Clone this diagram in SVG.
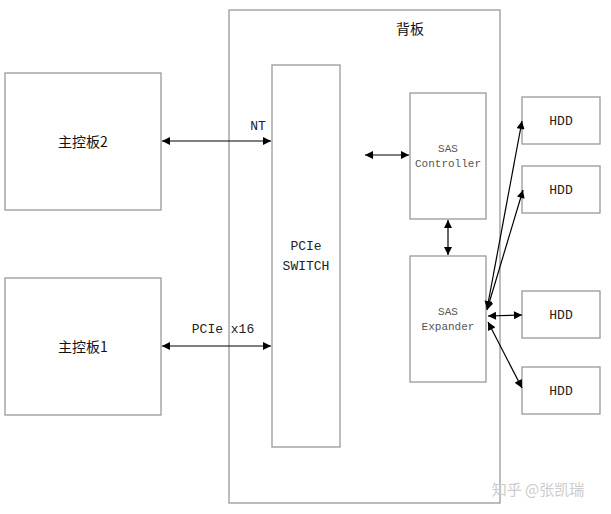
<svg xmlns="http://www.w3.org/2000/svg" width="611" height="514" viewBox="0 0 611 514">
<defs>
<marker id="a" viewBox="0 0 10 10" refX="10" refY="5" markerWidth="10" markerHeight="8" orient="auto-start-reverse" markerUnits="userSpaceOnUse"><path d="M0,0L10,5L0,10z" fill="#000"/></marker>
<style>
.b{fill:#fff;stroke:#999;stroke-width:1.3}
.t{font-family:"Liberation Mono","Noto Sans CJK SC",monospace;font-size:13px;fill:#222;text-anchor:middle}
.s{font-size:11px;fill:#555}
.c{font-family:"Noto Sans CJK SC",sans-serif;font-size:14px;fill:#111;text-anchor:middle}
.l{stroke:#000;stroke-width:1.2;fill:none;marker-start:url(#a);marker-end:url(#a)}
</style>
</defs>
<rect width="611" height="514" fill="#fff"/>
<g id="backplane"><rect class="b" x="229" y="10" width="271" height="493"/><text class="c" x="410" y="34">背板</text></g>
<g id="mb2"><rect class="b" x="5" y="73" width="156" height="137"/><text class="c" x="83" y="147">主控板2</text></g>
<g id="mb1"><rect class="b" x="5" y="278" width="156" height="137"/><text class="c" x="83" y="352">主控板1</text></g>
<g id="switch"><rect class="b" x="272" y="65" width="68" height="382"/><text class="t" x="306" y="250">PCIe</text><text class="t" x="306" y="270">SWITCH</text></g>
<g id="ctrl"><rect class="b" x="410" y="93" width="76" height="126"/><text class="t s" x="448" y="152">SAS</text><text class="t s" x="448" y="167">Controller</text></g>
<g id="exp"><rect class="b" x="410" y="256" width="76" height="126"/><text class="t s" x="448" y="315">SAS</text><text class="t s" x="448" y="330">Expander</text></g>
<g id="hdd1"><rect class="b" x="522" y="97" width="78" height="47"/><text class="t" x="561" y="125">HDD</text></g>
<g id="hdd2"><rect class="b" x="522" y="166" width="78" height="47"/><text class="t" x="561" y="194">HDD</text></g>
<g id="hdd3"><rect class="b" x="522" y="291" width="78" height="47"/><text class="t" x="561" y="319">HDD</text></g>
<g id="hdd4"><rect class="b" x="522" y="367" width="78" height="47"/><text class="t" x="561" y="395">HDD</text></g>
<g id="connectors">
<line class="l" x1="162" y1="141" x2="271" y2="141"/>
<text class="t" x="258" y="130">NT</text>
<line class="l" x1="162" y1="346" x2="271" y2="346"/>
<text class="t" x="223" y="333">PCIe x16</text>
<line class="l" x1="365" y1="155" x2="409" y2="155"/>
<line class="l" x1="448" y1="220" x2="448" y2="255"/>
<line class="l" x1="487" y1="309" x2="522" y2="121"/>
<line class="l" x1="487" y1="310" x2="523" y2="190"/>
<line class="l" x1="488" y1="316" x2="522" y2="315"/>
<line class="l" x1="488" y1="322" x2="522" y2="388"/>
</g>
<text x="538" y="495" font-family="Noto Sans CJK SC,sans-serif" font-size="15" fill="#ccc" text-anchor="middle">知乎 @张凯瑞</text>
</svg>
